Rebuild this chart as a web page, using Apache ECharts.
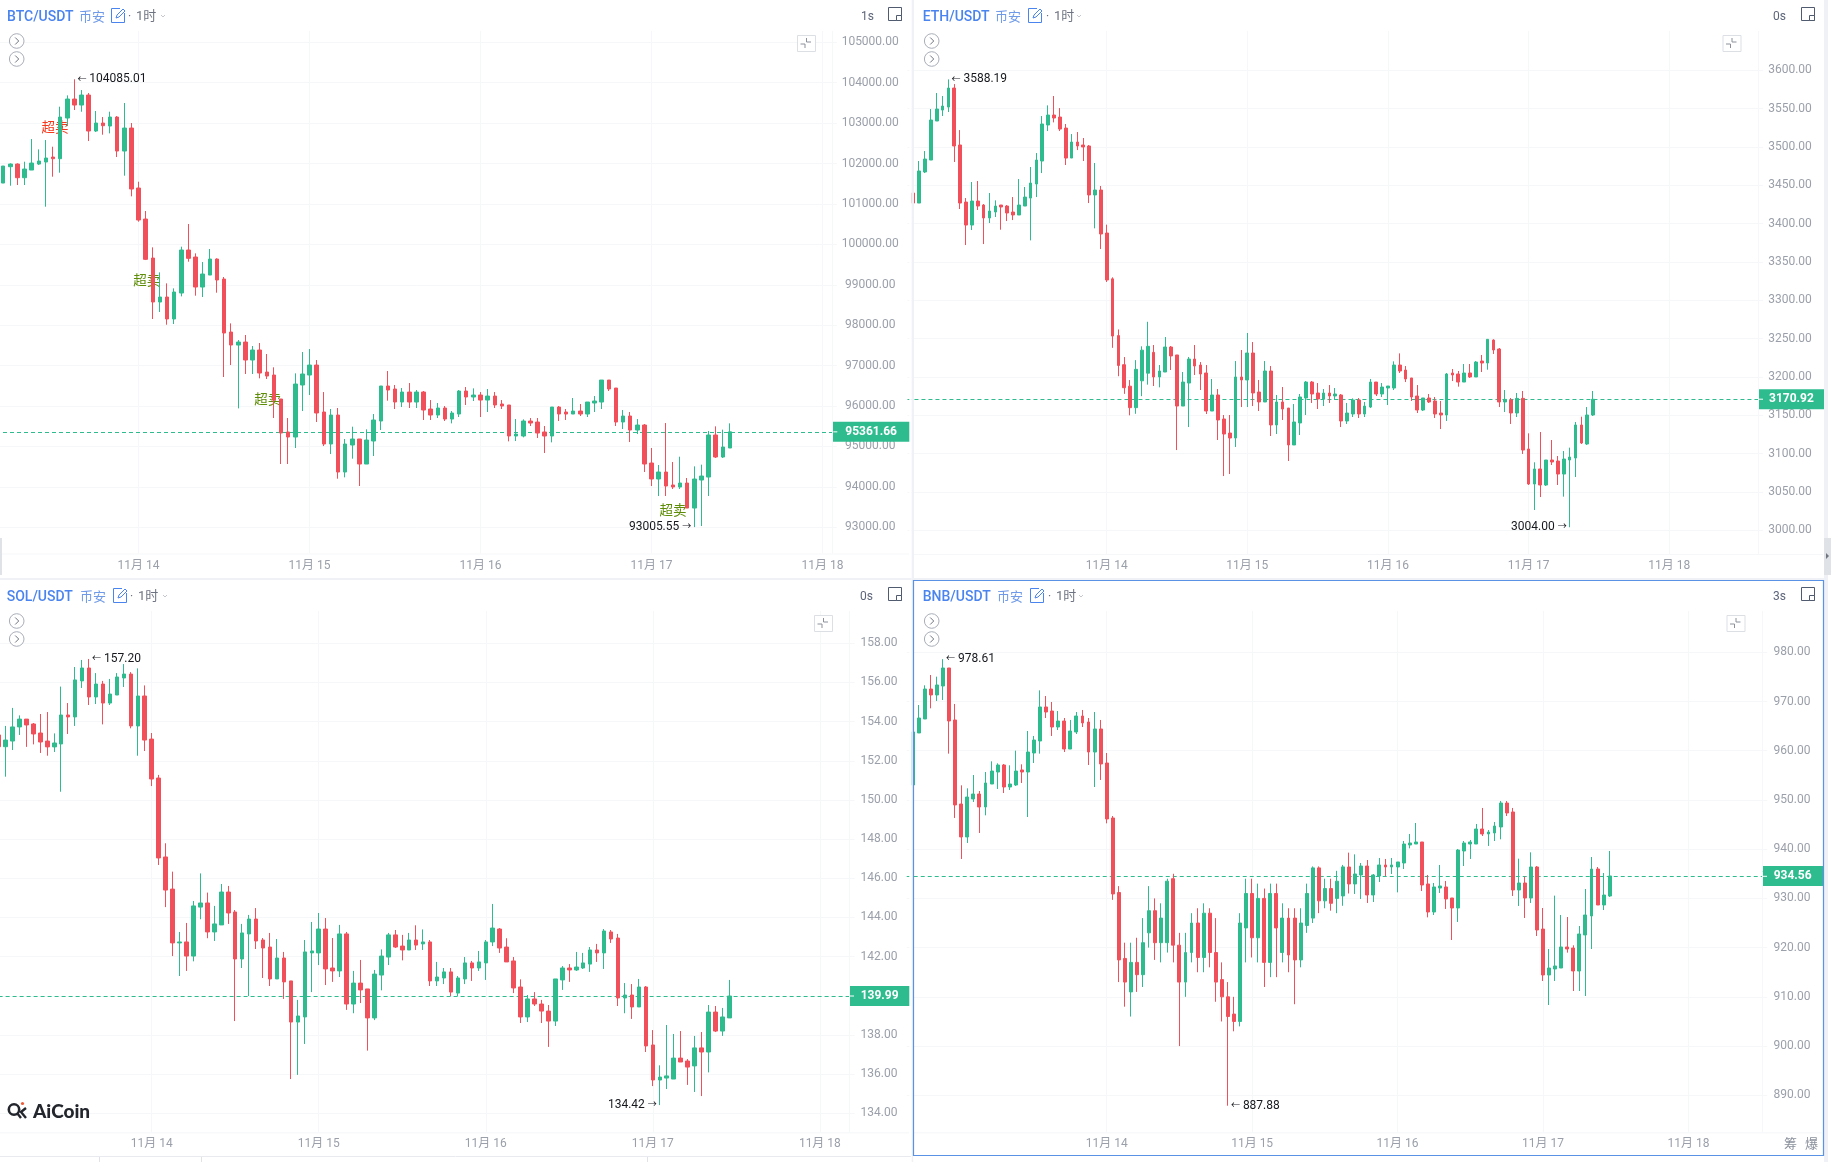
<!DOCTYPE html>
<html>
<head>
<meta charset="utf-8">
<style>html,body{margin:0;padding:0;background:#fff;overflow:hidden}#c{position:absolute;left:-20px;top:0;width:1851px;height:1162px}</style>
<script src="https://cdn.jsdelivr.net/npm/echarts@6/dist/echarts.min.js"></script>
</head>
<body>
<div id="c"></div>
<script>
// Candles are [open, close, low, high], one per hour.
const btcFirstHour = -19;
const btcCandles = [
[101518,101939,101518,101939],[101922,101988,101452,102005],[101988,101650,101469,102005],[101650,101865,101469,102046],[101840,102013,101840,102607],
[101988,102063,101964,102351],[102038,102137,100933,102582],[102162,102120,101675,102417],[102120,103151,101774,103407],[103127,103597,102929,103687],
[103597,103448,103325,104085.01],[103448,103696,103283,103819],[103696,102805,102557,103745],[102805,103003,102780,103300],[103003,102937,102714,103151],
[102929,103151,102747,103283],[103151,102310,102162,103176],[102310,102879,101700,103498],[102879,101370,101189,103003],[101395,100603,100562,101551],
[100628,99630,99613,100826],[99663,98574,98154,99927],[98574,98698,98327,99308],[98698,98154,98013,99036],[98154,98822,98030,98912],
[98797,99861,98714,99943],[99861,99655,99572,100504],[99688,98945,98731,99778],[98945,99267,98698,99564],[99242,99638,99242,99886],
[99638,99119,98805,99655],[99143,97807,96719,99193],[97832,97510,97015,98046],[97510,97584,95943,97634],[97584,97139,96793,97758],
[97139,97387,96793,97486],[97387,96817,96686,97560],[96842,96743,96669,97288],[96768,96149,95704,96958],[96174,95333,94566,96174],
[95358,95234,94566,95704],[95234,96545,94962,96809],[96521,96793,95877,97337],[96768,97015,96273,97411],[97015,95828,95605,97139],
[95853,95061,95011,96347],[95061,95778,94813,95927],[95778,94368,94203,95952],[94368,95061,94236,95185],[95036,95185,94698,95490],
[95185,94566,94022,95185],[94566,95160,94566,95424],[95135,95655,94764,95803],[95630,96496,95407,96496],[96496,96397,96133,96867],
[96422,96100,95927,96521],[96100,96347,95976,96446],[96347,96100,95952,96570],[96100,96347,95952,96397],[96347,95902,95655,96372],
[95927,95778,95655,96149],[95778,95952,95704,96075],[95952,95679,95630,96001],[95679,95828,95572,95877],[95803,96372,95729,96397],
[96372,96224,96026,96471],[96224,96273,96125,96438],[96273,96149,95729,96347],[96149,96248,95853,96422],[96248,96026,95952,96347],
[96051,96001,95927,96149],[96026,95259,95127,96026],[95259,95308,95135,95679],[95259,95630,95226,95671],[95630,95580,95506,95704],
[95605,95333,95209,95704],[95358,95259,94838,95506],[95259,95976,95102,95976],[95976,95803,95630,96001],[95853,95803,95655,95927],
[95803,95877,95803,96199],[95877,95803,95754,96051],[95803,96100,95729,96100],[96075,96125,95853,96248],[96100,96644,95927,96644],
[96644,96422,96372,96644],[96446,95605,95506,96446],[95605,95754,95432,95902],[95754,95407,95110,95853],[95407,95531,95308,95679],
[95531,94566,94368,95556],[94591,94195,94022,94962],[94195,94368,93774,94541],[94368,94022,93774,95580],[94047,93997,93948,94616],
[93997,94096,93948,94747],[94096,93477,93477,94220],[93477,94195,93005.55,94508],[94170,94269,93032,94550],[94244,95284,93774,95383],
[95284,94739,94715,95498],[94739,94987,94715,95416],[94962,95361.66,94962,95572]
];
const ethFirstHour = -33;
const ethCandles = [
[3440,3426.9,3426.9,3440],[3426.9,3468.7,3426.9,3481.7],[3467.4,3484.3,3466,3494.7],[3483,3535.2,3483,3549.5],[3533.9,3549.5,3533.9,3570.4],
[3548.2,3553.4,3540.4,3566.5],[3552.1,3576.9,3545.6,3588.19],[3576.9,3501.3,3480.4,3582.1],[3502.6,3426.9,3419.1,3522.1],[3428.2,3398.2,3372.1,3433.4],
[3398.2,3429.5,3391.7,3454.3],[3429.5,3423,3417.8,3455.6],[3424.3,3407.4,3373.4,3425.6],[3407.4,3416.5,3400.8,3440],[3415.2,3423,3408.7,3430.4],
[3424.3,3421.7,3392.1,3424.3],[3423,3413.9,3403.4,3424.3],[3415.2,3411.3,3404.7,3434.7],[3411.3,3424.3,3411.3,3458.2],[3423,3434.7,3423,3447.8],
[3433.4,3453,3378.2,3473.9],[3451.7,3483,3434.7,3492.1],[3481.7,3530,3466,3540.4],[3528.7,3541.7,3520.8,3554.3],[3541.7,3537.8,3532.1,3566.5],
[3539.1,3523.4,3520.8,3550.8],[3524.7,3485.6,3476.5,3530],[3485.6,3506.5,3485.6,3516.9],[3506.5,3501.3,3496,3519.5],[3502.6,3500,3481.7,3511.7],
[3501.3,3437.4,3426.9,3502.6],[3437.4,3443.9,3393.9,3479.1],[3443.9,3386.5,3366.9,3449.1],[3387.8,3326.5,3323.9,3398.7],
[3328,3253.4,3238,3330],[3254,3215,3201,3262],[3216,3186,3178,3226],[3188,3160,3150,3196],[3160,3210,3152,3222],[3195,3235,3175,3240],[3205,3240,3190,3272],
[3232.1,3200,3188.2,3241.7],[3200,3207.8,3186.5,3215.6],[3206.5,3239.1,3206.5,3252.1],[3239.1,3227.4,3209.1,3240.4],[3228.7,3162.1,3104.7,3228.7],
[3162.1,3193.4,3162.1,3206.5],[3192.1,3223.4,3134.7,3226.1],[3223.4,3214.3,3202.6,3241.7],[3215.6,3203.9,3183,3219.5],[3205.2,3155.6,3151.7,3215.6],
[3155.6,3176.5,3155.6,3197.4],[3176.5,3143.9,3117.8,3184.3],[3145.2,3125.6,3070.8,3150.4],[3126.9,3120.4,3073.4,3150.4],[3120.4,3200,3108.7,3220.8],
[3200,3196.1,3160.8,3235.2],[3196.1,3231.3,3160.8,3257.4],[3231.3,3179.1,3162.1,3245.6],[3180.4,3167.4,3155.6,3196.1],[3167.4,3207.8,3167.4,3220.8],
[3207.8,3137.4,3123,3214.3],[3137.4,3167.4,3125.6,3176.5],[3167.4,3158.2,3143.9,3186.9],[3159.5,3111.3,3090.4,3159.5],[3111.3,3141.3,3111.3,3164.7],
[3140,3173.9,3124.3,3177.8],[3172.6,3193.4,3150.4,3194.7],[3193.4,3177.8,3166.1,3194.7],[3179.1,3171.3,3158.2,3192.1],[3171.3,3179.1,3162.1,3184.3],
[3179.1,3175.2,3166.1,3189.5],[3175.2,3177.8,3170,3185.6],[3176.5,3142.6,3134.7,3177.8],[3142.6,3153,3138.7,3166.1],[3151.7,3170,3147.8,3172.1],
[3170,3151.7,3146.5,3172.6],[3151.7,3162.1,3147.8,3167.4],[3160.8,3193.4,3159.5,3197.4],[3193.4,3177.8,3175.2,3193.4],[3177.8,3186.9,3173.9,3192.1],
[3185.6,3188.2,3163.4,3188.2],[3185.6,3215.6,3183,3220.4],[3215.6,3207.8,3205.2,3230.8],[3209.1,3197.4,3193.4,3214.3],[3198.7,3173.9,3168.7,3198.7],
[3175.2,3156.9,3153,3189.5],[3156.9,3172.6,3155.6,3172.6],[3172.6,3167.4,3166.1,3177.8],[3168.7,3151.7,3146.5,3173.9],[3153,3150.4,3132.1,3168.7],
[3150.4,3203.9,3142.6,3205.2],[3205.2,3202.6,3194.7,3210.4],[3203.9,3193.4,3187.4,3207.8],[3193.4,3205.2,3193.4,3216.9],[3205.2,3200,3198.7,3216.9],
[3200,3219.5,3200,3220.8],[3220.8,3218.2,3206.5,3228.7],[3218.2,3249.1,3209.5,3249.1],[3248.2,3235.2,3230,3249.1],[3236.5,3167.4,3160.8,3237.8],
[3167.4,3170.8,3154.3,3183],[3170,3153,3138.7,3172.6],[3153,3172.1,3147.8,3179.1],[3172.1,3104.7,3099.5,3181.7],[3106.1,3060.4,3059.1,3126.5],
[3060.4,3080,3026.5,3088.7],[3080,3059.1,3043.4,3128.2],[3059.1,3091.7,3057.8,3091.7],[3091.7,3089.1,3085.2,3117.8],[3090.4,3073.4,3059.1,3096.9],
[3073.4,3093,3043.9,3103.4],[3091.7,3095.6,3004,3107.8],[3094.3,3137.4,3069.5,3141.3],[3137.4,3113.9,3112.6,3148.2],[3112.6,3150.4,3111.3,3160.8],
[3150.4,3170.92,3149.1,3181.7]
];
const solFirstHour = -22;
const solCandles = [
[153.32,152.72,152.72,153.32],[152.72,153.06,151.19,153.78],[153.01,153.73,152.55,154.7],[153.73,154.13,153.32,154.32],[154.13,153.83,152.71,154.13],
[153.88,153.37,152.84,153.93],[153.42,152.96,152.4,154.39],[153.01,152.71,152.26,154.49],[152.71,152.91,152.45,153.4],[152.86,154.34,150.42,155.79],
[154.34,154.24,153.37,154.95],[154.24,156.13,153.78,156.79],[156.08,156.74,155.72,157.15],[156.74,155.26,154.85,157.2],[155.26,155.92,154.9,156.48],
[155.92,154.95,153.86,156.08],[154.95,155.41,154.85,156.18],[155.36,156.28,155.36,156.48],[156.23,156.43,155.77,156.94],[156.43,153.78,153.66,156.53],
[153.78,155.31,152.26,156.72],[155.31,153.06,152.5,155.85],[153.11,151.07,150.71,153.42],[151.12,147.04,146.68,151.28],[147.09,145.4,144.53,147.79],
[145.45,142.7,142.03,146.34],[142.7,142.75,141.01,143.26],[142.75,142.03,141.27,143.72],[142.03,144.59,141.76,144.84],[144.53,144.74,143.91,146.25],
[144.74,143.26,142.94,145.27],[143.26,143.67,142.8,144.59],[143.62,145.3,143.62,145.71],[145.3,144.23,143.67,145.61],[144.28,141.88,138.71,144.38],
[141.88,143.21,141.42,143.67],[143.16,143.92,139.99,144.13],[143.92,142.8,142.39,144.48],[142.85,142.44,140.91,142.95],[142.49,140.86,140.5,143.21],
[140.86,141.93,140.86,142.9],[141.93,140.71,139.84,142.24],[140.76,138.66,135.75,140.76],[138.66,138.97,135.96,139.79],[138.92,142.24,137.54,142.85],
[142.19,142.29,140.19,143.77],[142.19,143.41,141.57,144.23],[143.41,141.37,140.55,143.97],[141.42,141.27,140.71,142.95],[141.27,143.16,140.96,143.62],
[143.16,139.58,139.28,143.26],[139.58,140.65,139.11,141.27],[140.65,140.3,139.63,141.83],[140.35,138.87,137.2,140.35],[138.87,141.11,138.76,141.32],
[141.06,142.03,140.28,142.37],[141.98,143.11,141.57,143.21],[143.11,142.49,142.44,143.36],[142.54,142.34,141.81,143.11],[142.34,142.85,142.34,143.21],
[142.85,142.59,142.34,143.6],[142.65,142.75,142.34,143.39],[142.75,140.76,140.5,142.85],[140.76,140.96,140.5,141.73],[140.91,141.22,140.6,141.42],
[141.22,140.19,139.99,141.42],[140.14,140.91,139.99,141.01],[140.86,141.68,140.6,141.98],[141.68,141.42,140.76,141.78],[141.42,141.73,141.27,142.29],
[141.68,142.75,140.81,142.85],[142.75,143.46,142.54,144.69],[143.41,142.44,142.19,143.46],[142.49,141.73,141.73,142.94],[141.78,140.4,140.14,141.98],
[140.45,138.92,138.61,140.84],[138.92,139.84,138.66,140.04],[139.84,139.58,139.48,140.19],[139.58,139.22,138.61,139.79],[139.22,138.71,137.39,139.53],
[138.71,140.86,138.46,140.86],[140.81,141.42,140.3,141.52],[141.42,141.32,140.71,141.62],[141.32,141.47,141.27,142.24],[141.42,141.68,141.37,142.19],
[141.62,142.34,141.22,142.49],[142.34,142.19,141.73,142.65],[142.19,143.31,141.37,143.41],[143.26,142.9,142.7,143.36],[142.95,139.89,139.48,143.16],
[139.89,140.04,139.11,140.65],[140.04,139.43,138.82,140.6],[139.43,140.45,139.43,140.86],[140.45,137.44,137.13,140.5],[137.49,135.7,135.39,138.25],
[135.7,135.85,134.42,136.45],[135.8,135.91,135.24,138.51],[135.75,136.82,135.75,138.05],[136.82,136.62,136.62,138.2],[136.67,136.36,135.45,136.77],
[136.42,137.34,135.09,137.95],[137.34,137.13,134.88,138.15],[137.13,139.17,136.09,139.53],[139.17,138.2,138.15,139.48],[138.2,138.92,137.95,139.38],
[138.87,139.99,138.87,140.81]
];
const bnbFirstHour = -32;
const bnbCandles = [
[953.04,963.81,953.04,963.81],[963.61,966.65,963.61,969.29],[966.45,972.54,966.45,973.29],[972.54,971.33,968.62,975.39],[971.33,973.36,970.11,975.05],
[973.15,976.81,970.31,978.61],[976.81,966.04,959.41,976.81],[966.25,948.98,946.34,969.5],[949.18,942.48,938.01,952.97],[942.48,950.6,941.26,952.36],
[950.2,951.21,949.59,955.07],[951.21,948.57,943.29,951.82],[948.57,953.45,946.88,955.68],[953.24,955.88,953.24,957.85],[955.68,957.1,952.23,957.44],
[957.1,952.63,951.41,957.31],[952.63,953.24,952.03,957.04],[953.04,955.88,952.84,960.02],[956.09,955.68,953.45,957.24],[955.68,959.74,946.54,964.01],
[959.54,962.18,957.51,963],[961.98,968.89,959.41,972.27],[968.89,967.87,966.65,971.12],[968.07,964.82,963,969.9],[964.82,966.04,964.21,968.07],
[966.04,960.35,959.74,966.65],[960.35,964.01,960.35,966.25],[963.81,967.06,963.4,967.87],[967.06,965.64,964.82,968.28],[965.84,959.74,957.1,966.65],
[959.74,964.42,952.63,967.87],[964.42,957.31,954.06,966.25],[957.51,946.13,945.25,959.54],[946.34,930.9,929.7,946.74],
[931.2,917.5,913,932.5],[917.8,913,908,921],[911,917,906,921],[917,914.5,911,922],[914.5,921,912,926],[923,927.5,920,932.5],[927.5,921,917.5,930],
[921,926,917,929],[921,933.5,919,934],[934,920.5,917,935],[920.5,913,900,923],[913,919,910,923],[919,925,917,927],[925,918,915,928],[918,927,915,929],
[927,919,916,928],[919,913,909,926],[913.5,910,905,917],[910,906,887.88,913],[906.5,905,903,910],[905,925,904,927],[924,931,917,934],[931,922,918,934],
[922,930,917,933],[930,917,912,932],[917,931,914,933],[931,924,914,933],[919,926,917,929],[926,918.5,915,928],[926,917.5,908.5,928],[917.5,925,916,928],
[924.5,931,923,933],[926,936.2,925,936.5],[936.2,929.5,927,936.5],[929.5,932,928,934],[932,929,927.5,934],[930,933.5,927,935.6],[930.5,936.4,928.5,936.8],
[936.38,932.93,931,939.3],[932.93,934.96,930.9,938.95],[934.76,936.58,929.88,937.19],[936.58,930.69,929.07,937.8],[930.69,934.76,929.27,934.96],
[934.55,936.79,933.33,938.21],[936.79,936.38,934.55,938.01],[936.38,936.79,934.96,938.21],[936.38,937.4,931.23,937.4],[937.19,941.05,935.97,941.66],
[940.85,941.26,940.17,943.09],[941.05,941.46,941.05,945.32],[941.46,932.72,931.5,941.46],[932.93,927.24,926.15,934.76],[927.24,932.32,926.63,933.13],
[932.11,932.52,931.1,936.79],[932.32,929.88,927.85,933.54],[930.08,928.05,921.55,930.08],[928.05,939.83,925.21,940.04],[939.63,941.26,936.58,941.66],
[941.05,941.46,938.01,941.87],[941.05,944.1,941.05,945.12],[944.1,943.09,942.68,948.37],[943.09,943.49,940.65,943.9],[943.29,944.71,941.66,945.52],
[944.51,949.38,942,949.79],[949.38,947.35,946.74,949.79],[947.56,931.71,930.49,948.37],[931.71,933.13,928.46,938.07],[933.13,930.08,926.02,934.42],
[930.08,936.38,929.07,939.36],[936.38,923.58,922.36,936.58],[923.78,914.44,913.22,928.05],[914.44,915.86,908.34,919.72],[915.66,916.27,913.22,930.56],
[915.86,920.13,915.86,926.63],[920.13,919.72,918.98,926.22],[919.92,915.25,911.19,920.47],[915.25,922.77,911.19,924.39],[922.57,926.63,910.17,931.91],
[926.43,935.97,919.72,938.41],[935.97,928.66,928.66,936.38],[928.66,930.69,927.64,935.16],[930.49,934.56,930.29,939.63]
];
const btcPriceTicks = [93000,94000,95000,96000,97000,98000,99000,100000,101000,102000,103000,104000,105000];
const ethPriceTicks = [3000,3050,3100,3150,3200,3250,3300,3350,3400,3450,3500,3550,3600];
const solPriceTicks = [134,136,138,140,142,144,146,148,150,152,154,156,158];
const bnbPriceTicks = [890,900,910,920,930,940,950,960,970,980];
const lastPrices = [95361.66, 3170.92, 139.99, 934.56];
const highMarks = [[-9,104085.01],[-27,3588.19],[-9,157.20],[-27,978.61]];
const lowMarks = [[78,93005.55],[79,3004.00],[73,134.42],[20,887.88]];
const oversoldMarks = [[-12,102904,'#f5381c'],[1,99124,'#5d8c06'],[18,96180,'#5d8c06'],[75,93428,'#5d8c06']];

const UP = '#2ebc8f', DOWN = '#f1505b', GRID = '#f6f7f9', BAND = '#eff1f6';
const FONT = 'Roboto, "Noto Sans CJK SC", sans-serif';
const SHIFT = 20; // the drawing surface starts this far left of the window so that cut-off candles can sit on the edge

const panels = [
 {sym:'BTC/USDT',candles:btcCandles,first:btcFirstHour,ticks:btcPriceTicks,zero:138.5,px:7.125,start:-20,end:98,top:31,bottom:553.5,min:92352,max:105280,bar:4,labelC:870.2,tagL:832.3,pad:13,
  tx:7,ax:79,ix:111,dx:128,chev:161,timer:'1s',tmx:861,pix:888,cx:797,cirx:16.7,oy:0,axisX:832,endX:909,signals:oversoldMarks,signalDx:[2,1,1,0]},
 {sym:'ETH/USDT',candles:ethCandles,first:ethFirstHour,ticks:ethPriceTicks,zero:1106.7,px:5.86,start:-34,end:112,top:31,bottom:554,min:2969.1,max:3651.3,bar:3.2,labelC:1790,tagL:1758,pad:11,
  tx:922.7,ax:995,ix:1028,dx:1046,chev:1077,timer:'0s',tmx:1773,pix:1801,cx:1722.5,cirx:931.7,oy:0,axisX:1758,endX:1823,signals:[]},
 {sym:'SOL/USDT',candles:solCandles,first:solFirstHour,ticks:solPriceTicks,zero:151.7,px:6.96,start:-23,end:101,top:611,bottom:1132.3,min:133.03,max:159.65,bar:4,labelC:879,tagL:849,pad:11.7,
  tx:6.7,ax:80,ix:113,dx:130,chev:163,timer:'0s',tmx:860,pix:888,cx:814,cirx:16.7,oy:580,axisX:849,endX:909,signals:[]},
 {sym:'BNB/USDT',candles:bnbCandles,first:bnbFirstHour,ticks:bnbPriceTicks,zero:1106.7,px:6.06,start:-33,end:109,top:611,bottom:1132.3,min:882.48,max:988.39,bar:3.4,labelC:1792,tagL:1762,pad:11.7,lowRight:true,
  tx:922.7,ax:997,ix:1030,dx:1048,chev:1079,timer:'3s',tmx:1773,pix:1801,cx:1726.5,cirx:931.7,oy:580,axisX:1762,endX:1822,signals:[]}
];

function hourCategories(s,e){
  const out=[];
  for(let h=s;h<=e;h++){
    const day=14+Math.floor(h/24), hh=((h%24)+24)%24;
    out.push('11月 '+day+' '+hh+':00');
  }
  return out;
}
const isDayStart=(i,v)=>v.endsWith(' 0:00') && !v.startsWith('11月 13');

const grids=[],xAxes=[],yAxes=[],series=[];
panels.forEach((p,k)=>{
  const left=p.zero+p.start*p.px, width=(p.end-p.start)*p.px;
  grids.push({left:left+SHIFT,top:p.top,width:width,height:p.bottom-p.top});
  xAxes.push({type:'category',gridIndex:k,boundaryGap:false,data:hourCategories(p.start,p.end),
    axisLine:{show:false},axisTick:{show:false},
    axisLabel:{interval:isDayStart,formatter:v=>v.slice(0,v.lastIndexOf(' ')),color:'#9a9fa9',fontSize:12,fontFamily:FONT,margin:6},
    splitLine:{show:true,interval:isDayStart,lineStyle:{color:GRID,width:1}}});
  yAxes.push({type:'value',gridIndex:k,position:'right',min:p.min,max:p.max,scale:true,z:1,
    axisLine:{show:false},axisTick:{show:false,customValues:p.ticks},
    axisLabel:{customValues:p.ticks,formatter:v=>v.toFixed(2),color:'#9a9fa9',fontSize:12,fontFamily:FONT,align:'center',padding:[3,0,0,0],
      margin:p.labelC-(left+width),showMinLabel:true,showMaxLabel:true},
    splitLine:{show:true,lineStyle:{color:GRID,width:1}}});
  const hi=highMarks[k], lo=lowMarks[k];
  const idx=h=>h-p.start;
  const rich={a:{fontSize:9,color:'#16181d',fontFamily:FONT}};
  const lab=(right,v)=>({position:right?'right':'left',distance:3,rich:rich,
    formatter:right?'{a|←} '+v.toFixed(2):v.toFixed(2)+' {a|→}',color:'#16181d',fontSize:12,fontFamily:FONT});
  const pts=[{coord:[idx(hi[0]),hi[1]],label:lab(true,hi[1])},{coord:[idx(lo[0]),lo[1]],label:lab(!!p.lowRight,lo[1])}];
  p.signals.forEach((s,j)=>pts.push({coord:[idx(s[0]),s[1]],label:{position:'inside',offset:[p.signalDx[j],0],formatter:'超卖',color:s[2],fontSize:13.5,fontFamily:'"Noto Sans CJK SC", sans-serif'}}));
  series.push({type:'candlestick',xAxisIndex:k,yAxisIndex:k,z:5,barWidth:p.bar,
    encode:{x:0,y:[1,2,3,4]},
    data:p.candles.map((c,i)=>[p.first+i-p.start,c[0],c[1],c[2],c[3]]),
    itemStyle:{color:UP,color0:DOWN,borderColor:UP,borderColor0:DOWN,borderWidth:1},
    markLine:{silent:true,symbol:'none',animation:false,
      lineStyle:{color:UP,type:[4,3],width:1},
      data:[{yAxis:lastPrices[k]}],
      label:{show:true,position:'end',distance:p.tagL-(left+width),formatter:lastPrices[k].toFixed(2),color:'#fff',fontWeight:'bold',fontSize:12,fontFamily:FONT,
        backgroundColor:UP,padding:[5,p.pad,3,p.pad],lineHeight:12}},
    markPoint:{silent:true,symbol:'circle',symbolSize:0,animation:false,itemStyle:{color:'transparent'},data:pts}
  });
});

// decoration: dividers, headers and small icons
const g=[];
const Z=20;
const rect=(x,y,w,h,fill,stroke,lw)=>g.push({type:'rect',z:Z,silent:true,shape:{x,y,width:w,height:h},style:{fill:fill||'none',stroke:stroke||'none',lineWidth:lw||1}});
const line=(pts,stroke,lw)=>g.push({type:'polyline',z:Z,silent:true,shape:{points:pts},style:{fill:'none',stroke,lineWidth:lw||1}});
const text=(x,y,t,fill,font,align)=>g.push({type:'text',z:Z,silent:true,x,y,style:{text:t,fill,font,textAlign:align||'left',textVerticalAlign:'middle'}});
const circle=(cx,cy,r,fill,stroke,lw)=>g.push({type:'circle',z:Z,silent:true,shape:{cx,cy,r},style:{fill:fill||'none',stroke:stroke||'none',lineWidth:lw||1}});

panels.forEach(p=>{
  const o=p.oy;
  text(p.tx,17+o,p.sym,'#4a84ee','500 14px '+FONT);
  text(p.ax,16.5+o,'币安','#6f9ae8','13px "Noto Sans CJK SC", sans-serif');
  line([[p.ix+9,8.5+o],[p.ix+.5,8.5+o],[p.ix+.5,22.5+o],[p.ix+13.5,22.5+o],[p.ix+13.5,13+o]],'#4a84ee',1);
  line([[p.ix+5,18+o],[p.ix+6,15+o],[p.ix+12,9+o],[p.ix+14,11+o],[p.ix+8,17+o],[p.ix+5,18+o]],'#4a84ee',1);
  text(p.dx,17+o,'·','#6d7380','12px '+FONT);
  text(p.dx+8,17+o,'1时','#6d7380','13px '+FONT);
  line([[p.chev,15+o],[p.chev+2,17+o],[p.chev+4,15+o]],'#c4c7ce',1);
  text(p.tmx,17+o,p.timer,'#5c6579','12px '+FONT);
  rect(p.pix+.5,7.5+o,13,13,'#fff','#515b6f',1);
  rect(p.pix+8.5,15.5+o,5,5,'#fff','#515b6f',1);
  rect(p.cx+.5,35.5+o,18,16,'#fff','#dcdfe4',1);
  line([[p.cx+9.5,38+o],[p.cx+9.5,42+o],[p.cx+14,42+o]],'#8b909a',1);
  line([[p.cx+3.5,44+o],[p.cx+8,44+o],[p.cx+8,48+o]],'#8b909a',1);
  [41,59].forEach(y=>{
    circle(p.cirx,y+o,7.3,'#fff','#a9aeb8',1);
    line([[p.cirx-1.5,y+o-3.5],[p.cirx+2,y+o],[p.cirx-1.5,y+o+3.5]],'#6e7480',1);
  });
  line([[p.axisX+.5,p.top],[p.axisX+.5,p.bottom]],GRID,1);
  line([[p.cirx>100?914:0,p.bottom+.5],[p.endX,p.bottom+.5]],GRID,1);
});
panels.forEach((p,k)=>{
  const y=[431.85,399.2,996,876.3][k];
  line([[p.tagL+1,y],[p.tagL+5,y]],'#fff',1);
});
rect(909.3,0,2.4,1162,'#fff');
rect(0,578,911.7,2,BAND);
rect(914,578,910,2,BAND);
rect(911.7,0,2.3,580,BAND);
rect(911.7,580,1.5,582,BAND);
rect(1824,0,4,1162,BAND);
rect(0,538,2,37,'#dfe2e7');
rect(1824,538,7,37,'#dfe2e7');
g.push({type:'polygon',z:Z+1,silent:true,shape:{points:[[1826,553],[1829,556],[1826,559]]},style:{fill:'#70757f'}});
line([[0,1156.5],[911,1156.5]],'#e8eaef',1);
line([[99.5,1157],[99.5,1162]],'#dfe2e7',1);
line([[201.5,1157],[201.5,1162]],'#dfe2e7',1);
line([[647.5,1157],[647.5,1162]],'#dfe2e7',1);
rect(913.5,580.5,910,575,'none','#5a92e6',1.2);
text(1784,1143,'筹','#8a909c','13px "Noto Sans CJK SC", sans-serif');
text(1805,1143,'爆','#8a909c','13px "Noto Sans CJK SC", sans-serif');
circle(14,1109.5,5.2,'none','#23262c',2.6);
line([[17,1113],[21,1118]],'#23262c',2.4);
line([[26,1108],[21,1112],[26,1118]],'#23262c',2.4);
circle(22.5,1103.5,1.6,'#ee5a36');
text(33,1112,'AiCoin','#23262c','900 19px Lato, sans-serif');

const chart=echarts.init(document.getElementById('c'),null,{renderer:'canvas'});
chart.setOption({animation:false,backgroundColor:'#fff',grid:grids,xAxis:xAxes,yAxis:yAxes,series:series,
  graphic:{elements:[{type:'group',x:SHIFT,y:0,silent:true,children:g}]}});
</script>
</body>
</html>
